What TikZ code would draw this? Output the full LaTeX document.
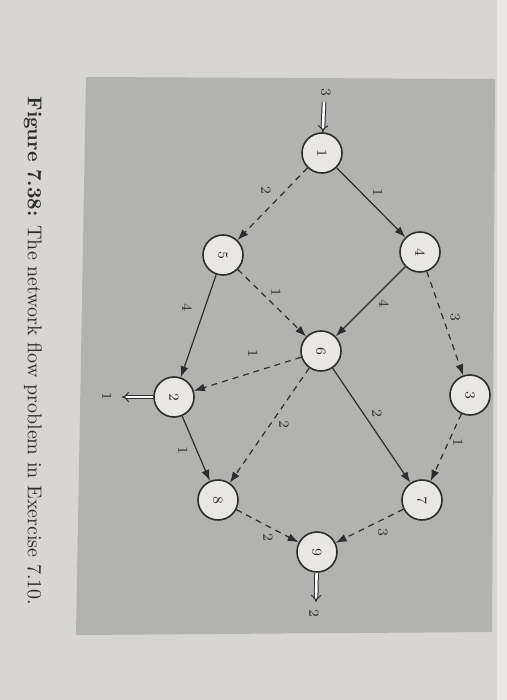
\documentclass[tikz,border=0pt]{standalone}
\usepackage{amsmath,amssymb}
\usetikzlibrary{arrows.meta}
\usepackage{xcolor}
\definecolor{paper}{RGB}{216,214,210}
\definecolor{boxgray}{RGB}{178,178,176}
\definecolor{disc}{RGB}{232,231,228}
\definecolor{ink}{RGB}{45,45,45}
\tikzstyle{netnode} = [circle, draw=ink, fill=disc, line width=0.8pt, minimum size=20pt, inner sep=0pt, font=\scriptsize, text=ink, rotate=-90]
\tikzstyle{solidarc} = [draw=ink, line width=0.6pt, -{Latex[length=5.5pt,width=4pt]}]
\tikzstyle{dasharc} = [solidarc, dash pattern=on 3pt off 2.5pt]
\tikzstyle{supply} = [draw=ink, double, double distance=1.3pt, line width=0.5pt, -{Implies}]
\tikzstyle{arclabel} = [font=\scriptsize, text=ink, rotate=-90, inner sep=1pt]

\begin{document}
\begin{tikzpicture}[x=0.5pt,y=-0.5pt]
\useasboundingbox (0,0) rectangle (507,700);
\fill[paper] (0,0) rectangle (507,700);
\fill[paper!55!white] (497,0) rectangle (507,700);
\fill[boxgray] (86,77) -- (495,79) -- (492,632) -- (76,635) -- cycle;

% nodes
\node[netnode] (n1) at (322,153) {1};
\node[netnode] (n4) at (420,252) {4};
\node[netnode] (n5) at (223,255) {5};
\node[netnode] (n6) at (321,351) {6};
\node[netnode] (n3) at (470,395) {3};
\node[netnode] (n2) at (174,397) {2};
\node[netnode] (n7) at (422,500) {7};
\node[netnode] (n8) at (218,500) {8};
\node[netnode] (n9) at (317,552) {9};

% supplies and demands
\coordinate (in1) at (324,102);
\coordinate (out2) at (122,397);
\coordinate (out9) at (316,602);
\draw[supply] (in1) -- (n1);
\draw[supply] (n2) -- (out2);
\draw[supply] (n9) -- (out9);
\node[arclabel] (s1) at (326,92) {3};
\node[arclabel] (d2) at (107,396) {1};
\node[arclabel] (d9) at (314,613) {2};

% arcs
\draw[solidarc] (n1) -- (n4);
\draw[dasharc] (n1) -- (n5);
\draw[dasharc] (n4) -- (n3);
\draw[solidarc] (n4) -- (n6);
\draw[dasharc] (n5) -- (n6);
\draw[solidarc] (n5) -- (n2);
\draw[dasharc] (n6) -- (n2);
\draw[dasharc] (n6) -- (n8);
\draw[solidarc] (n6) -- (n7);
\draw[solidarc] (n2) -- (n8);
\draw[dasharc] (n3) -- (n7);
\draw[dasharc] (n7) -- (n9);
\draw[dasharc] (n8) -- (n9);

% arc labels
\node[arclabel] (l14) at (378,192) {1};
\node[arclabel] (l15) at (266,190) {2};
\node[arclabel] (l43) at (455,317) {3};
\node[arclabel] (l46) at (384,303) {4};
\node[arclabel] (l56) at (276,292) {1};
\node[arclabel] (l52) at (187,307) {4};
\node[arclabel] (l62) at (253,353) {1};
\node[arclabel] (l68) at (284,424) {2};
\node[arclabel] (l67) at (377,413) {2};
\node[arclabel] (l28) at (183,450) {1};
\node[arclabel] (l37) at (458,442) {1};
\node[arclabel] (l79) at (383,532) {3};
\node[arclabel] (l89) at (268,537) {2};

% caption
\node[rotate=-90, text=ink, inner sep=0pt] (cap) at (33,351) {\textbf{Figure 7.38:} The network flow problem in Exercise 7.10.};
\end{tikzpicture}
\end{document}
